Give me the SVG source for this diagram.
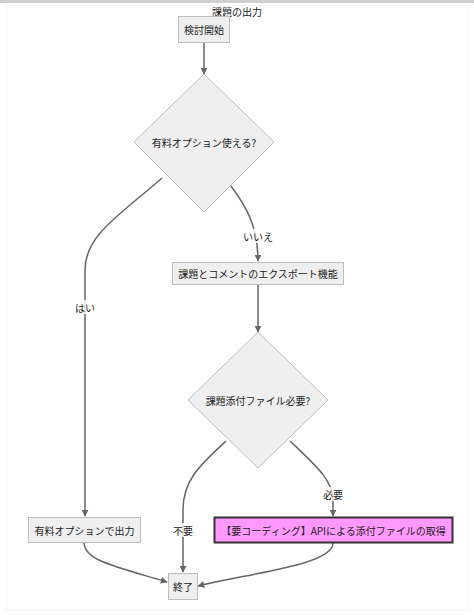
<svg xmlns="http://www.w3.org/2000/svg" width="474" height="615" viewBox="0 0 474 615">
<defs>
<marker id="arr" viewBox="0 0 10 10" refX="9" refY="5" markerWidth="7" markerHeight="7" orient="auto" markerUnits="userSpaceOnUse">
<path d="M0,0 L10,5 L0,10 z" fill="#666"/>
</marker>
<style>
text{font-family:"Noto Sans CJK JP","Liberation Sans",sans-serif;font-size:10px;fill:#222;text-anchor:middle;dominant-baseline:central}
.n{fill:#efefef;stroke:#bdbdbd;stroke-width:1}
.e{fill:none;stroke:#666;stroke-width:1.5;marker-end:url(#arr)}
.lbl{fill:#fff;opacity:0.8}
</style>
</defs>
<rect x="0" y="0" width="474" height="615" fill="#fff"/>
<rect x="0" y="0" width="474" height="3" fill="#d0d0d0"/>
<rect x="6.5" y="5.5" width="462" height="605" fill="#fefefe" stroke="#f6f6f6"/>
<text x="237" y="11">課題の出力</text>
<g id="connectors">
<path class="e" d="M204,42 L204,74"/>
<path class="e" d="M231,186 C245,205 258,225 258,261"/>
<path class="e" d="M162,178 C120,215 85,235 85,270 L85,516"/>
<path class="e" d="M258,284 L258,332"/>
<path class="e" d="M226,441 C200,465 183,480 183,510 L183,572"/>
<path class="e" d="M290,441 C315,465 333,480 333,500 L333,516"/>
<path class="e" d="M84,542 C84,560 110,565 167,582"/>
<path class="e" d="M333,543 C333,565 250,573 198,586"/>
</g>
<g id="labels">
<rect class="lbl" x="241" y="229" width="34" height="14"/>
<text x="258" y="236">いいえ</text>
<rect class="lbl" x="74" y="300" width="22" height="14"/>
<text x="85" y="307">はい</text>
<rect class="lbl" x="172" y="523" width="22" height="14"/>
<text x="183" y="530">不要</text>
<rect class="lbl" x="322" y="487" width="22" height="14"/>
<text x="333" y="494">必要</text>
</g>
<g id="start"><rect class="n" x="178.5" y="16.5" width="51" height="26"/><text x="204" y="29.5">検討開始</text></g>
<g id="q1"><polygon class="n" points="204,74 274,142 204,212 134,142"/><text x="204" y="142">有料オプション使える?</text></g>
<g id="export"><rect class="n" x="172.5" y="262.5" width="171" height="22"/><text x="258" y="273.5">課題とコメントのエクスポート機能</text></g>
<g id="q2"><polygon class="n" points="258,332 328,400 258,468 188,400"/><text x="258" y="400">課題添付ファイル必要?</text></g>
<g id="paid"><rect class="n" x="28.5" y="517.5" width="112" height="25"/><text x="84.5" y="530">有料オプションで出力</text></g>
<g id="api"><rect x="214.5" y="517.5" width="238" height="25" fill="#ff99ff" stroke="#333" stroke-width="2"/><text x="333.5" y="530">【要コーディング】APIによる添付ファイルの取得</text></g>
<g id="end"><rect class="n" x="168.5" y="573.5" width="29" height="26"/><text x="183" y="586.5">終了</text></g>
</svg>
